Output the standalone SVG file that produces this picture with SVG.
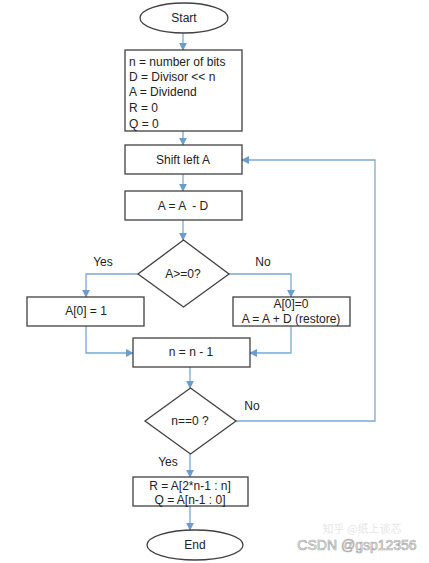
<svg xmlns="http://www.w3.org/2000/svg" width="429" height="563" viewBox="0 0 429 563">
<defs>
<style>
.n{fill:#fff;stroke:#404040;stroke-width:1.3}
.t{font-family:"Liberation Sans",Arial,sans-serif;font-size:12px;fill:#222;text-anchor:middle}
.l{text-anchor:start}
.c{fill:none;stroke:#7aa7d2;stroke-width:1.3}
.wm{font-family:"Liberation Sans",Arial,sans-serif;font-size:14px;fill:#fff;stroke:#a8a8a8;stroke-width:0.7}
</style>
<marker id="a" viewBox="0 0 10 10" refX="9" refY="5" markerWidth="8" markerHeight="8" markerUnits="userSpaceOnUse" orient="auto">
<path d="M0,0 L10,5 L0,10 z" fill="#6a9cce"/>
</marker>
</defs>
<rect width="429" height="563" fill="#fff"/>
<g id="connectors">
<path class="c" d="M183,33 V50" marker-end="url(#a)"/>
<path class="c" d="M183,131 V145" marker-end="url(#a)"/>
<path class="c" d="M183,174 V191" marker-end="url(#a)"/>
<path class="c" d="M183,220 V240" marker-end="url(#a)"/>
<path class="c" d="M138,274 H86 V297" marker-end="url(#a)"/>
<path class="c" d="M229,274 H291 V297" marker-end="url(#a)"/>
<path class="c" d="M86,326 V353 H133" marker-end="url(#a)"/>
<path class="c" d="M291,326 V353 H250" marker-end="url(#a)"/>
<path class="c" d="M190,367 V388" marker-end="url(#a)"/>
<path class="c" d="M236,421 H375 V160 H242" marker-end="url(#a)"/>
<path class="c" d="M190,454 V477" marker-end="url(#a)"/>
<path class="c" d="M190,506 V530" marker-end="url(#a)"/>
</g>
<g id="labels">
<text class="t" x="103" y="266">Yes</text>
<text class="t" x="263" y="266">No</text>
<text class="t" x="252" y="410">No</text>
<text class="t" x="168" y="466">Yes</text>
</g>
<g id="start"><ellipse class="n" cx="184" cy="18" rx="44" ry="15"/><text class="t" x="184" y="22">Start</text></g>
<g id="init"><rect class="n" x="125" y="50" width="117" height="81"/>
<text class="t l" x="129" y="66">n = number of bits</text>
<text class="t l" x="129" y="81">D = Divisor &lt;&lt; n</text>
<text class="t l" x="129" y="96">A = Dividend</text>
<text class="t l" x="129" y="112">R = 0</text>
<text class="t l" x="129" y="128">Q = 0</text></g>
<g id="shift"><rect class="n" x="125" y="145" width="117" height="29"/><text class="t" x="183" y="164">Shift left A</text></g>
<g id="sub"><rect class="n" x="125" y="191" width="117" height="29"/><text class="t" x="183" y="210" xml:space="preserve">A = A  - D</text></g>
<g id="cmp"><path class="n" d="M183.5,240 L229,274 L183.5,307 L138,274 z"/><text class="t" x="183" y="278">A&gt;=0?</text></g>
<g id="yes1"><rect class="n" x="27" y="297" width="117" height="29"/><text class="t" x="86" y="315">A[0] = 1</text></g>
<g id="no1"><rect class="n" x="233" y="297" width="117" height="29"/><text class="t" x="291" y="308">A[0]=0</text><text class="t" x="291" y="323">A = A + D (restore)</text></g>
<g id="dec"><rect class="n" x="133" y="338" width="117" height="29"/><text class="t" x="191" y="356">n = n - 1</text></g>
<g id="chk"><path class="n" d="M190.5,388 L236,421 L190.5,454 L145,421 z"/><text class="t" x="190" y="425">n==0 ?</text></g>
<g id="res"><rect class="n" x="133" y="477" width="115" height="29"/><text class="t" x="190" y="490">R = A[2*n-1 : n]</text><text class="t" x="190" y="504">Q = A[n-1 : 0]</text></g>
<g id="end"><ellipse class="n" cx="195" cy="545" rx="48" ry="15"/><text class="t" x="195" y="549">End</text></g>
<g id="watermark">
<text x="362" y="533" font-family="'Noto Sans CJK SC',sans-serif" font-size="11" fill="#e6e6e6" text-anchor="middle">知乎 @纸上谈芯</text>
<text class="wm" x="357" y="550" text-anchor="middle">CSDN @gsp12356</text>
</g>
</svg>
